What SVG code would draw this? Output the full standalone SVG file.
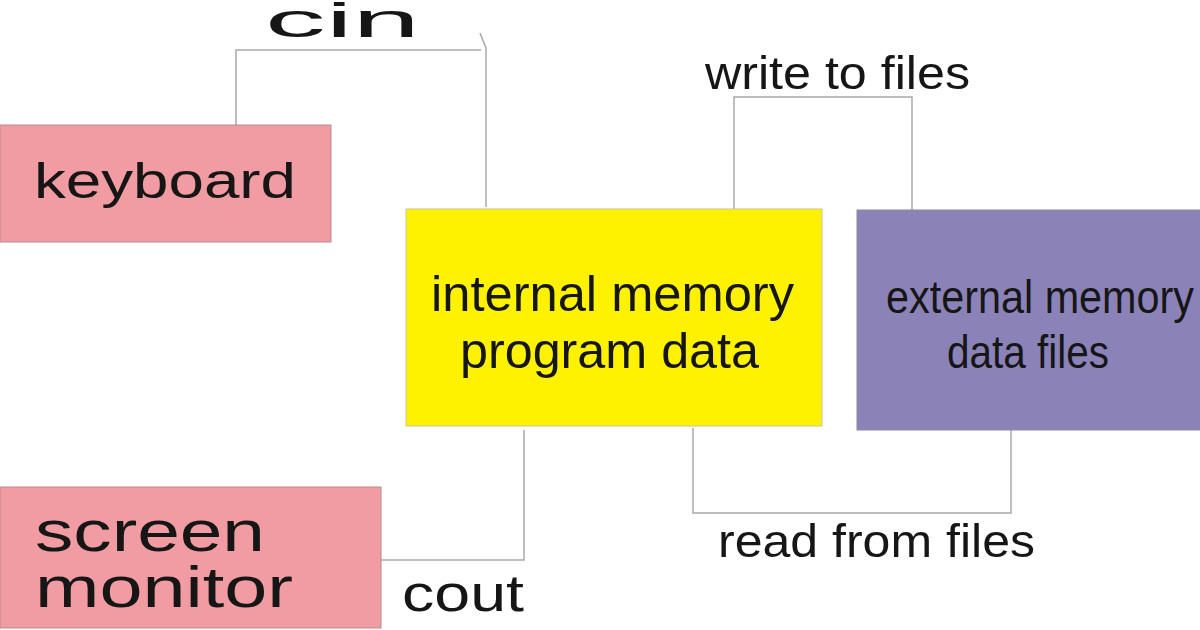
<svg xmlns="http://www.w3.org/2000/svg" width="1200" height="630" viewBox="0 0 1200 630">
<style>
text{font-family:"Liberation Sans",Arial,sans-serif;fill:#161616}
.conn{fill:none;stroke:#a9a9a9;stroke-width:1.5}
.pink{fill:#f09ca2;stroke:#b9898e;stroke-width:1}
</style>
<rect width="1200" height="630" fill="#ffffff"/>
<g id="connectors">
<path class="conn" d="M236,138 V50 H481"/>
<path class="conn" d="M480,33 L486,48 V207"/>
<path class="conn" d="M734,209 V97 H912 V210"/>
<path class="conn" d="M693,428 V513 H1011 V430"/>
<path class="conn" d="M381,560 H524 V430"/>
</g>
<g id="labels">
<text x="265" y="37" font-size="48" textLength="155" lengthAdjust="spacingAndGlyphs">cin</text>
<text x="705" y="89" font-size="47" textLength="265" lengthAdjust="spacingAndGlyphs">write to files</text>
<text x="718" y="557" font-size="47" textLength="317" lengthAdjust="spacingAndGlyphs">read from files</text>
<text x="402" y="611" font-size="52" textLength="122" lengthAdjust="spacingAndGlyphs">cout</text>
</g>
<g id="keyboard">
<rect class="pink" x="0" y="125" width="331" height="117"/>
<text x="34" y="198" font-size="50" textLength="262" lengthAdjust="spacingAndGlyphs">keyboard</text>
</g>
<g id="screen-monitor">
<rect class="pink" x="0" y="487" width="381" height="141"/>
<text x="35" y="551" font-size="58" textLength="230" lengthAdjust="spacingAndGlyphs">screen</text>
<text x="35" y="607" font-size="58" textLength="258" lengthAdjust="spacingAndGlyphs">monitor</text>
</g>
<g id="internal-memory">
<rect x="406" y="209" width="416" height="217" fill="#fff200" stroke="#c9c39a" stroke-width="1"/>
<text x="431" y="311" font-size="50" textLength="363" lengthAdjust="spacingAndGlyphs">internal memory</text>
<text x="460" y="368" font-size="50" textLength="299" lengthAdjust="spacingAndGlyphs">program data</text>
</g>
<g id="external-memory">
<rect x="857" y="210" width="344" height="220" fill="#8b83b8" stroke="#8a8a9a" stroke-width="1"/>
<text x="886" y="313" font-size="46" textLength="308" lengthAdjust="spacingAndGlyphs">external memory</text>
<text x="947" y="368" font-size="46" textLength="162" lengthAdjust="spacingAndGlyphs">data files</text>
</g>
</svg>
